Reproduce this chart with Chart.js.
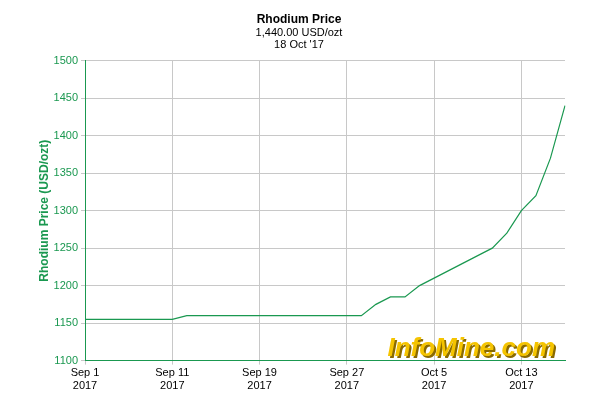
<!DOCTYPE html>
<html><head><script src="https://cdn.jsdelivr.net/npm/chart.js@4"></script>
<style>body{margin:0;background:#fff}#w{width:607px;height:410px}</style></head>
<body><div id="w"><canvas id="c"></canvas></div>
<script>
const dates=["Sep 1","Sep 4","Sep 5","Sep 6","Sep 7","Sep 8","Sep 11","Sep 12","Sep 13","Sep 14","Sep 15","Sep 18","Sep 19","Sep 20","Sep 21","Sep 22","Sep 25","Sep 26","Sep 27","Sep 28","Sep 29","Oct 2","Oct 3","Oct 4","Oct 5","Oct 6","Oct 9","Oct 10","Oct 11","Oct 12","Oct 13","Oct 16","Oct 17","Oct 18"];
const prices=[1155,1155,1155,1155,1155,1155,1155,1160,1160,1160,1160,1160,1160,1160,1160,1160,1160,1160,1160,1160,1175,1185,1185,1200,1210,1220,1230,1240,1250,1270,1300,1320,1370,1440];
const yTicks=[1100,1150,1200,1250,1300,1350,1400,1450,1500];
const green='#1a9850';
const wm={id:'wm',afterDatasetsDraw(ch){const c=ch.ctx;c.save();c.font='italic bold 26px "Liberation Sans"';c.textAlign='right';c.textBaseline='alphabetic';
c.fillStyle='#8a6a00';c.fillText('InfoMine.com',557,358);c.fillStyle='#f5c400';c.fillText('InfoMine.com',555,356);c.restore();}};
new Chart(document.getElementById('c'),{type:'line',
data:{labels:dates,datasets:[{data:prices,borderColor:green,borderWidth:1.2,pointRadius:0,tension:0,fill:false}]},
plugins:[wm],
options:{responsive:true,maintainAspectRatio:false,animation:false,
layout:{padding:{left:33,right:42,top:3,bottom:15}},
plugins:{legend:{display:false},tooltip:{enabled:false},
title:{display:true,text:'Rhodium Price',color:'#000',font:{family:'Liberation Sans',size:12,weight:'bold'},padding:{top:9,bottom:0}},
subtitle:{display:true,text:['1,440.00 USD/ozt',"18 Oct '17"],color:'#000',font:{family:'Liberation Sans',size:11,lineHeight:1.15},padding:{top:0,bottom:9}}},
scales:{
x:{type:'category',offset:false,
grid:{color:c=>c.index%6===0?'#c8c8c8':'rgba(0,0,0,0)',drawTicks:true,tickLength:4},
border:{color:green},
ticks:{autoSkip:false,maxRotation:0,color:'#000',font:{family:'Liberation Sans',size:11},padding:2,
callback:(v,i)=>i%6===0?[dates[i],'2017']:''}},
y:{min:1100,max:1500,afterFit:s=>{s.width=52},afterBuildTicks:s=>{s.ticks=yTicks.map(v=>({value:v}))},
grid:{color:'#c8c8c8',tickLength:4},border:{color:green},
ticks:{color:green,font:{family:'Liberation Sans',size:11},callback:v=>String(v)},
title:{display:true,text:'Rhodium Price (USD/ozt)',color:green,font:{family:'Liberation Sans',size:12,weight:'bold'},padding:{bottom:0}}}
}}});
</script></body></html>
